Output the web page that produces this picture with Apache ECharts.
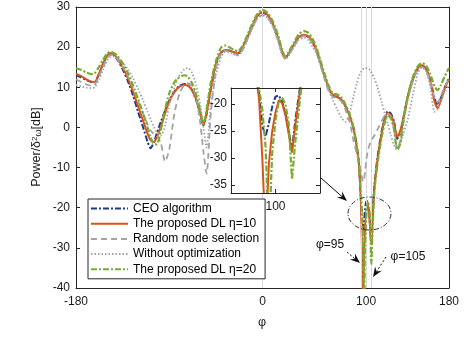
<!DOCTYPE html>
<html><head><meta charset="utf-8">
<script src="https://cdn.jsdelivr.net/npm/echarts@6/dist/echarts.min.js"></script>
<style>html,body{margin:0;padding:0;background:#fff}#c{width:474px;height:348px}</style>
</head><body><div id="c"></div>
<script>
// ---- data ----
const phi = [
  -180,-175,-170,-165,-162,-158,-154,-150,-147,-144,
  -140,-135,-130,-125,-120,-115,-111,-108,-105,-102,
  -98,-94,-90,-85,-80,-75,-72,-68,-64,-60,
  -57,-54,-50,-45,-40,-36,-32,-28,-24,-20,
  -15,-10,-5,0,5,10,15,19,22,25,
  30,35,40,44,48,52,56,60,64,68,
  72,76,80,84,88,91,93,95,96,97,
  98,99,100,101,102,103,104,105,106,108,
  111,115,118,121,124,127,130,133,136,140,
  145,150,154,158,162,166,169,172,176,180];
const ceo = [
  13.0,12.5,11.8,11.3,11.3,13.2,15.7,17.8,18.4,18.1,
  16.9,14.5,11.6,8.0,3.8,-0.2,-3.5,-5.2,-3.8,-1.5,
  1.5,4.2,6.8,9.0,10.4,10.8,10.5,9.3,6.8,3.2,
  0.5,3.3,9.3,15.6,18.6,19.2,19.1,18.7,18.4,19.5,
  22.2,25.1,27.7,28.6,27.9,25.7,22.2,18.7,17.3,18.2,
  20.4,22.4,23.0,22.6,21.4,19.2,15.9,12.6,9.6,8.0,
  7.6,7.0,5.3,3.0,-0.4,-4.8,-8.8,-18,-24,-26,
  -23.5,-20.5,-18.6,-18.4,-19.5,-21.5,-25,-28.5,-23,-14.5,
  -7.5,-1.0,2.3,4.0,3.4,1.4,-2.8,-1.5,2.2,7.3,
  11.8,14.7,15.4,14.5,11.7,7.3,5.6,7.2,10.0,12.3];
const dl10 = [
  13.3,12.8,12.0,11.4,11.3,13.3,15.8,17.9,18.5,18.3,
  17.2,15.0,12.3,9.0,5.2,1.5,-1.5,-3.2,-3.6,-2.5,
  0.3,3.5,6.5,8.8,10.2,10.6,10.4,9.3,7.0,3.5,
  0.6,3.5,9.5,15.8,18.7,19.3,19.2,18.8,18.5,19.6,
  22.3,25.2,27.8,28.7,28.0,25.8,22.3,18.8,17.4,18.3,
  20.5,22.5,23.1,22.7,21.5,19.3,16.0,12.7,9.7,8.0,
  7.6,7.0,5.3,3.0,-0.5,-5,-9,-19,-30,-45,
  -31,-25,-21.5,-19.3,-19.8,-22,-25.5,-29,-24,-15,
  -8,-1.5,2.0,3.6,3.0,1.0,-2.3,-0.8,2.5,7.5,
  12.0,14.8,15.5,14.5,11.5,6.5,4.8,6.5,9.8,12.0];
const randomSel = [
  12.0,11.3,10.7,10.4,10.6,12.6,15.0,17.2,18.0,17.9,
  17.0,15.2,12.8,9.8,6.5,3.2,0.8,-0.8,-1.5,-2.0,
  -4.0,-8.5,-5.5,3.5,8.5,10.8,11.0,10.2,7.5,1.0,
  -6,-11.5,3.0,14.5,18.5,19.1,18.9,18.4,18.0,19.0,
  21.7,24.7,27.2,28.0,27.3,25.2,21.8,18.3,17.2,18.0,
  20.0,22.0,22.8,22.4,21.0,18.8,15.5,12.0,9.0,7.6,
  7.3,6.5,4.5,1.5,-3.5,-6.5,-8.8,-11,-12.5,-13.5,
  -13,-11,-8.5,-6.8,-5.5,-4.6,-3.8,-3.2,-2.8,-2.0,
  -0.5,1.5,3.0,3.4,2.5,-0.5,-5.0,-3.5,1.5,6.8,
  11.5,14.5,15.0,14.0,11.2,7.5,6.3,7.8,10.2,12.0];
const withoutOpt = [
  10.6,10.2,9.9,9.8,10.0,11.8,14.3,16.6,17.5,17.7,
  17.3,16.2,14.5,12.3,9.6,6.6,4.0,2.0,0.2,-1.2,
  -2.0,0.5,5.5,10.0,13.0,14.6,14.8,13.6,10.5,5.5,
  0.0,-5.0,5.0,13.0,17.5,18.8,18.8,18.3,17.9,18.8,
  21.5,24.5,27.0,27.9,27.2,25.0,21.5,18.0,17.0,17.8,
  19.8,21.8,22.3,21.8,20.2,18.5,15.5,12.5,9.5,6.8,
  4.5,2.5,1.4,3.5,8.0,11.0,12.6,13.8,14.2,14.5,
  14.7,14.8,14.8,14.8,14.7,14.5,14.2,13.8,13.3,12.2,
  10.0,6.3,3.5,0.8,-2.0,-4.5,-5.6,-3.8,-1.5,1.8,
  8.0,13.5,15.0,14.0,10.0,3.9,4.5,6.5,9.0,10.5];
const dl20 = [
  14.8,14.3,13.7,13.3,13.5,15.0,16.8,18.4,18.8,18.6,
  17.8,16.0,13.6,10.5,7.0,3.3,0,-2.5,-4.0,-4.2,
  -0.5,4.5,8.5,11.3,12.6,13.0,12.6,11.0,8.2,4.0,
  0.8,4.5,11.0,16.5,19.9,20.4,20.0,19.4,19.0,20.0,
  22.8,25.8,28.3,29.3,28.5,26.4,23.0,19.3,17.8,18.7,
  21.0,23.2,24.0,23.6,22.2,20.0,16.6,13.3,10.3,8.5,
  8.2,7.5,5.8,3.4,-0.2,-4.5,-8.5,-17,-21,-28,
  -45,-29,-23,-19.5,-18.8,-20,-23.5,-34,-27,-16,
  -9,-2.5,1.2,3.0,2.2,-0.5,-5.5,-4.0,1.5,7.5,
  12.5,15.3,16.0,15.4,13.2,10.3,9.3,10.5,12.8,14.8];
const seriesNames = ['CEO algorithm','The proposed DL η=10','Random node selection','Without optimization','The proposed DL η=20'];
const seriesValues = [ceo, dl10, randomSel, withoutOpt, dl20];
const xTicks = [-180, 0, 100, 180];
const mainYTicks = [-40,-30,-20,-10,0,10,20,30];
const insetXTicks = [100];
const insetYTicks = [-35, -30, -25, -20];
const refLines = [0, 95, 100, 105];

// ---- styles ----
const FONT = "'Liberation Sans', Arial, sans-serif";
const AX = '#262626';
const styles = [
  {color:'#1c3a8c', type:[6,2,2,2], width:2},
  {color:'#d95319', type:'solid', width:2},
  {color:'#a3a3a3', type:[6,4], width:1.8},
  {color:'#a2a2b0', type:[1.5,2], width:1.8},
  {color:'#77ac30', type:[6,2,2,2], width:2.2}
];

const chart = echarts.init(document.getElementById('c'), null, {renderer:'canvas'});
const pairs = v => phi.map((p,i) => [p, v[i]]);

function axX(grid, pos, min, max, ticks, labels, z){
  return {type:'value', gridIndex:grid, position:pos, min:min, max:max, z:z,
    axisLine:{show:true, onZero:false, lineStyle:{color:AX, width:1}},
    axisTick:{show:true, inside:true, length:4, customValues:ticks, lineStyle:{color:AX}},
    axisLabel:{show:labels, customValues:ticks, fontSize:12, fontFamily:FONT, color:'#1a1a1a', margin:8},
    splitLine:{show:false}};
}
function axY(grid, pos, min, max, ticks, labels, margin, z){
  return {type:'value', gridIndex:grid, position:pos, min:min, max:max, z:z,
    axisLine:{show:true, onZero:false, lineStyle:{color:AX, width:1}},
    axisTick:{show:true, inside:true, length:4, customValues:ticks, lineStyle:{color:AX}},
    axisLabel:{show:labels, customValues:ticks, fontSize:12, fontFamily:FONT, color:'#1a1a1a', margin:margin},
    splitLine:{show:false}};
}

const series = [];
series.push({type:'line', name:'_ref', xAxisIndex:0, yAxisIndex:0, data:[], z:1, silent:true,
  markLine:{silent:true, symbol:'none', label:{show:false},
    lineStyle:{color:'#d9d9d9', type:'solid', width:1},
    data: refLines.map(v => ({xAxis:v}))}});
series.push({type:'line', name:'_ref2', xAxisIndex:2, yAxisIndex:2, data:[], z:15, silent:true,
  markLine:{silent:true, symbol:'none', label:{show:false},
    lineStyle:{color:'#d9d9d9', type:'solid', width:1},
    data: refLines.slice(1).map(v => ({xAxis:v}))}});
seriesNames.forEach((n,i) => {
  const s = styles[i];
  series.push({type:'line', name:n, xAxisIndex:0, yAxisIndex:0, data:pairs(seriesValues[i]),
    symbol:'none', smooth:0.25, z:3+i, lineStyle:{color:s.color, type:s.type, width:s.width},
    itemStyle:{color:s.color}});
});
seriesNames.forEach((n,i) => {
  const s = styles[i];
  series.push({type:'line', name:n, xAxisIndex:2, yAxisIndex:2, data:pairs(seriesValues[i]),
    symbol:'none', smooth:false, z:16+i, lineStyle:{color:s.color, type:s.type, width:s.width},
    itemStyle:{color:s.color}});
});

function arrow(x1,y1,x2,y2,dashed){
  const dx=x2-x1, dy=y2-y1, L=Math.hypot(dx,dy), ux=dx/L, uy=dy/L, nx=-uy, ny=ux;
  const hl=10, hw=4;
  const bx=x2-ux*hl, by=y2-uy*hl;
  const mx=x2-ux*hl*0.65, my=y2-uy*hl*0.65;
  return [
    {type:'line', shape:{x1:x1,y1:y1,x2:mx,y2:my}, style:{stroke:'#111', lineWidth:1, lineDash: dashed?[2,2]:null}, z:50},
    {type:'polygon', shape:{points:[[x2,y2],[bx+nx*hw,by+ny*hw],[mx,my],[bx-nx*hw,by-ny*hw]]}, style:{fill:'#111'}, z:50}
  ];
}

const graphics = [
  {type:'text', x:37, y:147, rotation:Math.PI/2, z:50,
    style:{text:'Power/δ{sup|2}{sub|ω}[dB]', fontSize:12.5, fontFamily:FONT, fill:'#1a1a1a',
      align:'center', verticalAlign:'middle',
      rich:{sup:{fontSize:8, fontFamily:FONT, fill:'#1a1a1a', verticalAlign:'top', lineHeight:9},
            sub:{fontSize:9, fontFamily:FONT, fill:'#1a1a1a', verticalAlign:'bottom', lineHeight:9}}}},
  {type:'text', x:262, y:323, z:50, style:{text:'φ', fontSize:12.5, fontFamily:FONT, fill:'#1a1a1a', align:'center', verticalAlign:'middle'}},
  {type:'text', x:330, y:245, z:50, style:{text:'φ=95', fontSize:12, fontFamily:FONT, fill:'#111', align:'center', verticalAlign:'middle'}},
  {type:'text', x:408, y:257, z:50, style:{text:'φ=105', fontSize:12, fontFamily:FONT, fill:'#111', align:'center', verticalAlign:'middle'}},
  {type:'ellipse', shape:{cx:369.5, cy:213.5, rx:21.5, ry:16.5}, z:50,
    style:{fill:null, stroke:'#333', lineWidth:1, lineDash:[5,2,1,2]}}
].concat(arrow(321,178,347,201,false), arrow(347,252,360,263,true), arrow(386,257,373,277,true));

chart.setOption({
  animation:false,
  backgroundColor:'#fff',
  grid:[
    {left:76, top:7, width:373, height:281},
    {left:231, top:88, width:89, height:105, show:true, backgroundColor:'#fff', borderWidth:0, z:10}
  ],
  xAxis:[
    axX(0,'bottom',-180,180,xTicks,true,2),
    axX(0,'top',-180,180,xTicks,false,2),
    axX(1,'bottom',86.5,113.5,insetXTicks,true,25),
    axX(1,'top',86.5,113.5,insetXTicks,false,25)
  ],
  yAxis:[
    axY(0,'left',-40,30,mainYTicks,true,6,2),
    axY(0,'right',-40,30,mainYTicks,false,6,2),
    axY(1,'left',-36.5,-17,insetYTicks,true,4,25),
    axY(1,'right',-36.5,-17,insetYTicks,false,4,25)
  ],
  legend:{data:seriesNames, orient:'vertical', left:88, top:199, z:30,
    backgroundColor:'#fff', borderColor:AX, borderWidth:1, borderRadius:0,
    padding:[3,6,3,2], itemWidth:37, itemHeight:10, itemGap:2.2,
    itemStyle:{opacity:0},
    textStyle:{fontSize:12, fontFamily:FONT, color:'#000', lineHeight:13}},
  series: series,
  graphic: graphics
});
</script></body></html>
